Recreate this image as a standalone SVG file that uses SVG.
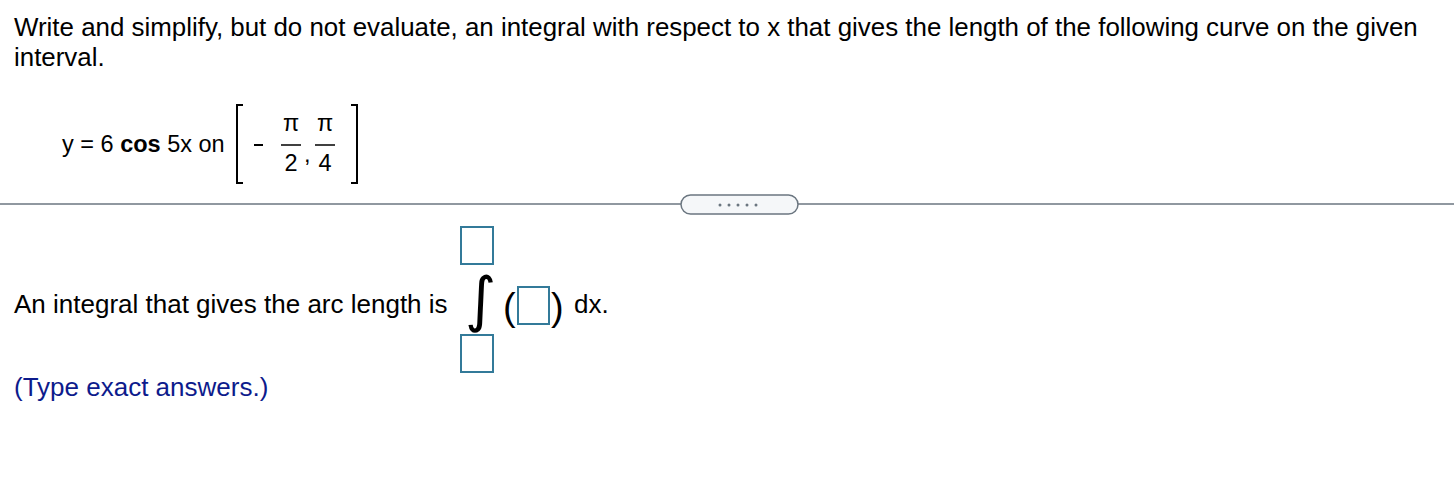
<svg xmlns="http://www.w3.org/2000/svg" width="1454" height="486" viewBox="0 0 1454 486">
<style>
text{font-family:"Liberation Sans",Arial,sans-serif;fill:#000}
.t{font-size:25.9px}
.m{font-size:26px}
.e{font-size:23.5px}
.box{fill:#fff;stroke:#337a99;stroke-width:2}
.br{fill:none;stroke:#000;stroke-width:2}
</style>
<rect width="1454" height="486" fill="#fff"/>
<text class="t" x="14" y="36">Write and simplify, but do not evaluate, an integral with respect to x that gives the length of the following curve on the given</text>
<text class="t" x="14" y="66">interval.</text>
<text class="e" x="62" y="152">y = 6 <tspan font-weight="bold">cos</tspan> 5x on</text>
<path class="br" d="M243,105 H237 V183 H243"/>
<path class="br" d="M351,105 H357 V183 H351"/>
<line x1="254" y1="145" x2="263" y2="145" stroke="#000" stroke-width="2"/>
<text class="e" x="291" y="131" text-anchor="middle">π</text>
<line x1="281" y1="145" x2="301" y2="145" stroke="#000" stroke-width="1.5"/>
<text class="e" x="291" y="171" text-anchor="middle">2</text>
<text class="e" x="304" y="162">,</text>
<text class="e" x="325" y="131" text-anchor="middle">π</text>
<line x1="315" y1="145" x2="335" y2="145" stroke="#000" stroke-width="1.5"/>
<text class="e" x="325" y="171" text-anchor="middle">4</text>
<line x1="0" y1="204" x2="1454" y2="204" stroke="#6b7680" stroke-width="1.5"/>
<rect x="681" y="195" width="117" height="19" rx="9.5" fill="#f5f7f9" stroke="#6b7680" stroke-width="1.5"/>
<g fill="#6b7680"><circle cx="720" cy="205" r="1.5"/><circle cx="729" cy="205" r="1.5"/><circle cx="738" cy="205" r="1.5"/><circle cx="747" cy="205" r="1.5"/><circle cx="756" cy="205" r="1.5"/></g>
<text class="m" x="14" y="313">An integral that gives the arc length is</text>
<rect class="box" x="461" y="227" width="32" height="37"/>
<rect class="box" x="461" y="335" width="32" height="37"/>
<text x="465" y="320" style="font-family:'DejaVu Sans',sans-serif;font-size:60px">∫</text>
<text x="503" y="320" style="font-size:38px;font-weight:300">(</text>
<rect class="box" x="518" y="287" width="31" height="37"/>
<text x="551" y="320" style="font-size:38px;font-weight:300">)</text>
<text class="m" x="574" y="313">dx.</text>
<text class="m" x="14" y="396" style="fill:#0d1b8c">(Type exact answers.)</text>
</svg>
